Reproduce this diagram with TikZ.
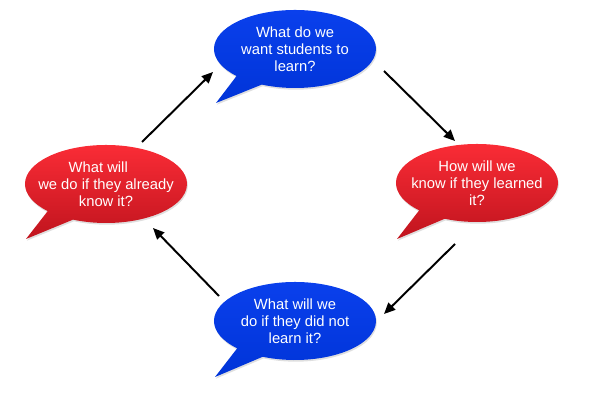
\documentclass[tikz,border=0pt]{standalone}
\usepackage{fontspec}
\setmainfont{Liberation Sans}
\usetikzlibrary{shapes.callouts,arrows.meta,shadows}

\definecolor{bubbleblue}{RGB}{10,64,236}
\definecolor{bubbleblue2}{RGB}{0,52,216}
\definecolor{bubblered}{RGB}{250,44,54}
\definecolor{bubblered2}{RGB}{192,20,30}

\tikzset{
  bubble/.style={ellipse callout, callout pointer arc=22, inner sep=0pt, outer sep=0pt,
    minimum width=4.05cm, minimum height=1.95cm,
    drop shadow={opacity=0.25, shadow xshift=0.6pt, shadow yshift=-1.2pt}},
  bluebubble/.style={bubble, top color=bubbleblue, bottom color=bubbleblue2},
  redbubble/.style={bubble, top color=bubblered, bottom color=bubblered2},
  bubbletext/.style={text=white, align=center, font=\fontsize{10.5}{12}\selectfont},
  flow/.style={line width=1.4pt, -{Triangle[length=8pt,width=7pt]}}
}

\begin{document}
\begin{tikzpicture}[x=0.025cm, y=0.025cm]
        \useasboundingbox (0,0) rectangle (591,407);

        % Speech bubbles
        \node[bluebubble, callout absolute pointer={(216,304)}] (learn) at (295,358) {};
        \node[redbubble, callout absolute pointer={(397,168)}] (know) at (477,224) {};
        \node[bluebubble, callout absolute pointer={(215,30)}] (notlearn) at (295,86) {};
        \node[redbubble, callout absolute pointer={(26,168)}] (already) at (106,223) {};

        % Questions
        \node[bubbletext] (learn-t) at (learn) {What do we\\want students to\\learn?};
        \node[bubbletext] (know-t) at (know) {How will we\\know if they learned\\it?};
        \node[bubbletext] (notlearn-t) at (notlearn) {What will we\\do if they did not\\learn it?};
        \node[bubbletext] (already-t) at (already) {What will\hspace*{11pt}\\we do if they already\\know it?};

        % Cycle arrows
        \draw[flow] ([shift={(36,42)}]already.center) -- ([shift={(-82,-23)}]learn.center);
        \draw[flow] ([shift={(89,-22)}]learn.center) -- ([shift={(-22,42)}]know.center);
        \draw[flow] ([shift={(-22,-61)}]know.center) -- ([shift={(89,7)}]notlearn.center);
        \draw[flow] ([shift={(-76,25)}]notlearn.center) -- ([shift={(47,-44)}]already.center);
\end{tikzpicture}
\end{document}
